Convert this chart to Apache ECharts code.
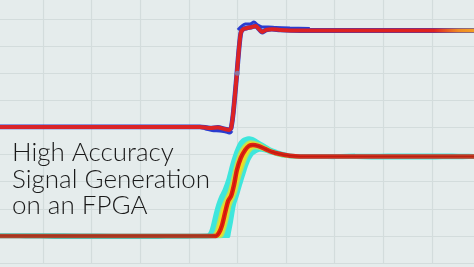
<!DOCTYPE html>
<html>
<head>
<meta charset="utf-8">
<script src="https://cdn.jsdelivr.net/npm/echarts@6/dist/echarts.min.js"></script>
<style>
html,body{margin:0;padding:0;background:#e5ecec;}
#c{width:474px;height:267px;}
</style>
</head>
<body>
<div id="c"></div>
<script>
// Axis: 10 x 10 scope divisions
var xTicks = [0,1,2,3,4,5,6,7,8,9,10];
var yTicks = [0,1,2,3,4,5,6,7,8,9,10];

// Top trace (averaged step), [time div, volts div]
var topTrace = [[0,5.02],[4.23,5.02],[4.44,4.98],[4.60,5.00],[4.74,4.94],[4.83,4.91],[4.87,4.98],[4.91,5.46],[4.95,6.20],[4.99,7.01],[5.03,7.86],[5.07,8.49],[5.12,8.63],[5.20,8.67],[5.30,8.71],[5.38,8.75],[5.44,8.64],[5.51,8.52],[5.59,8.60],[5.71,8.63],[5.88,8.60],[6.29,8.58],[10,8.58]];
var topFringeHigh = [[5.01,8.60],[5.07,8.71],[5.16,8.82],[5.26,8.82],[5.34,8.89],[5.42,8.78],[5.51,8.71],[5.63,8.71],[5.79,8.69],[6.08,8.67],[6.49,8.65]];
var topFringeLow = [[4.33,4.95],[4.48,4.89],[4.64,4.87],[4.77,4.83],[4.85,4.80],[4.89,4.87]];
var triggerPoint = [[5.0,7.0]];

// Bottom trace (persistence), centre and envelope edges
var botCenter = [[0,1.0],[4.56,1.0],[4.62,1.11],[4.68,1.37],[4.75,1.88],[4.81,2.29],[4.87,2.47],[4.93,2.88],[4.99,3.43],[5.07,3.88],[5.16,4.17],[5.24,4.32],[5.32,4.35],[5.42,4.32],[5.57,4.21],[5.71,4.10],[5.88,4.02],[6.08,3.96],[6.29,3.93],[10,3.93]];
var cyanUpper = [[0,1.09],[4.38,1.09],[4.44,1.29],[4.50,1.73],[4.56,2.14],[4.62,2.44],[4.69,2.69],[4.78,3.14],[4.86,3.69],[4.94,4.13],[5.02,4.45],[5.11,4.61],[5.22,4.68],[5.32,4.65],[5.42,4.55],[5.57,4.39],[5.71,4.24],[5.88,4.13],[6.08,4.04],[6.29,4.02],[10,4.02]];
var cyanLower = [[0,0.92],[4.83,0.92],[4.87,1.14],[4.91,1.51],[4.97,2.14],[5.03,2.47],[5.09,2.84],[5.18,3.36],[5.26,3.76],[5.34,3.99],[5.44,4.10],[5.57,4.08],[5.71,3.99],[5.88,3.91],[6.08,3.86],[6.29,3.84],[10,3.84]];
var yellowUpper = [[4.50,1.0],[4.55,1.18],[4.61,1.59],[4.67,2.03],[4.74,2.33],[4.82,2.66],[4.88,3.06],[4.96,3.65],[5.04,4.08],[5.13,4.34],[5.24,4.49],[5.34,4.48],[5.47,4.40],[5.59,4.28],[5.75,4.13],[5.92,4.02],[6.12,3.97],[6.29,3.95]];
var yellowLower = [[4.67,0.96],[4.73,1.14],[4.80,1.59],[4.86,2.10],[4.92,2.36],[4.98,2.62],[5.04,3.06],[5.13,3.58],[5.21,3.95],[5.29,4.17],[5.38,4.23],[5.51,4.17],[5.63,4.10],[5.79,3.99],[6.00,3.91],[6.21,3.89],[6.29,3.89]];

var titleLines = ['High Accuracy','Signal Generation','on an FPGA'];

var chart = echarts.init(document.getElementById('c'), null, {renderer:'canvas'});

function bandSeries(upper, lower, fill, stroke, strokeW, z){
  return {
    type:'custom', coordinateSystem:'cartesian2d', z:z, silent:true,
    data:[[0,0]],
    renderItem:function(params, api){
      var pts = [];
      upper.forEach(function(p){ pts.push(api.coord(p)); });
      for (var i = lower.length-1; i >= 0; i--) pts.push(api.coord(lower[i]));
      return {type:'polygon', shape:{points:pts, smooth:0.25},
        style:{fill:fill, stroke:stroke||null, lineWidth:strokeW||0}};
    }
  };
}

function grad(stops){
  return new echarts.graphic.LinearGradient(0,0,1,0, stops.map(function(s){return {offset:s[0], color:s[1]};}));
}

var option = {
  backgroundColor:'#e5ecec',
  animation:false,
  grid:{left:-5.6, top:-8, width:486, height:271, containLabel:false, outerBoundsMode:'none'},
  xAxis:{type:'value', min:xTicks[0], max:xTicks[xTicks.length-1], interval:1,
    axisLine:{show:false}, axisTick:{show:false}, axisLabel:{show:false},
    splitLine:{show:true, lineStyle:{color:'#d3dcdc', width:1.2}}},
  yAxis:{type:'value', min:yTicks[0], max:yTicks[yTicks.length-1], interval:1,
    axisLine:{show:false}, axisTick:{show:false}, axisLabel:{show:false},
    splitLine:{show:true, lineStyle:{color:'#d3dcdc', width:1.2}}},
  graphic: titleLines.map(function(t,i){
    return {type:'text', left:12, top:140 + i*26.5, z:100,
      style:{text:t, font:'300 26px Lato, "Open Sans", sans-serif', fill:'#1a1a1a'}};
  }),
  series:[
    // bottom persistence trace
    bandSeries(cyanUpper, cyanLower, '#3ee6dc', null, 0, 2),
    bandSeries(yellowUpper, yellowLower, '#f2dc1c', '#b9e25a', 1.6, 3),
    {type:'line', data:botCenter, showSymbol:false, smooth:0.25, z:4, silent:true,
      lineStyle:{width:4.5, color:grad([[0,'#a9482e'],[0.44,'#a9482e'],[0.46,'#e8200e'],[0.6,'#d8261a'],[1,'#c23a22']])}},
    {type:'line', data:botCenter, showSymbol:false, smooth:0.25, z:5, silent:true,
      lineStyle:{width:1.2, color:'rgba(170,20,10,0.55)'}},
    // top averaged trace
    {type:'line', data:topTrace, showSymbol:false, smooth:0.2, z:6, silent:true,
      lineStyle:{width:4.8, color:'#2a3ccf'}},
    {type:'line', data:topFringeHigh, showSymbol:false, smooth:0.3, z:6, silent:true,
      lineStyle:{width:3, color:'#2a3ccf'}},
    {type:'line', data:topFringeLow, showSymbol:false, smooth:0.3, z:6, silent:true,
      lineStyle:{width:3, color:'#2a3ccf'}},
    {type:'line', data:topTrace, showSymbol:false, smooth:0.2, z:7, silent:true,
      lineStyle:{width:4, color:grad([[0,'#d8232b'],[0.9,'#e0221e'],[0.95,'#f08a22'],[1,'#f4aa26']])}},
    {type:'scatter', data:triggerPoint, symbol:'circle', symbolSize:5, z:8, silent:true,
      itemStyle:{color:'#7b86b8'}}
  ]
};
chart.setOption(option);
</script>
</body>
</html>
